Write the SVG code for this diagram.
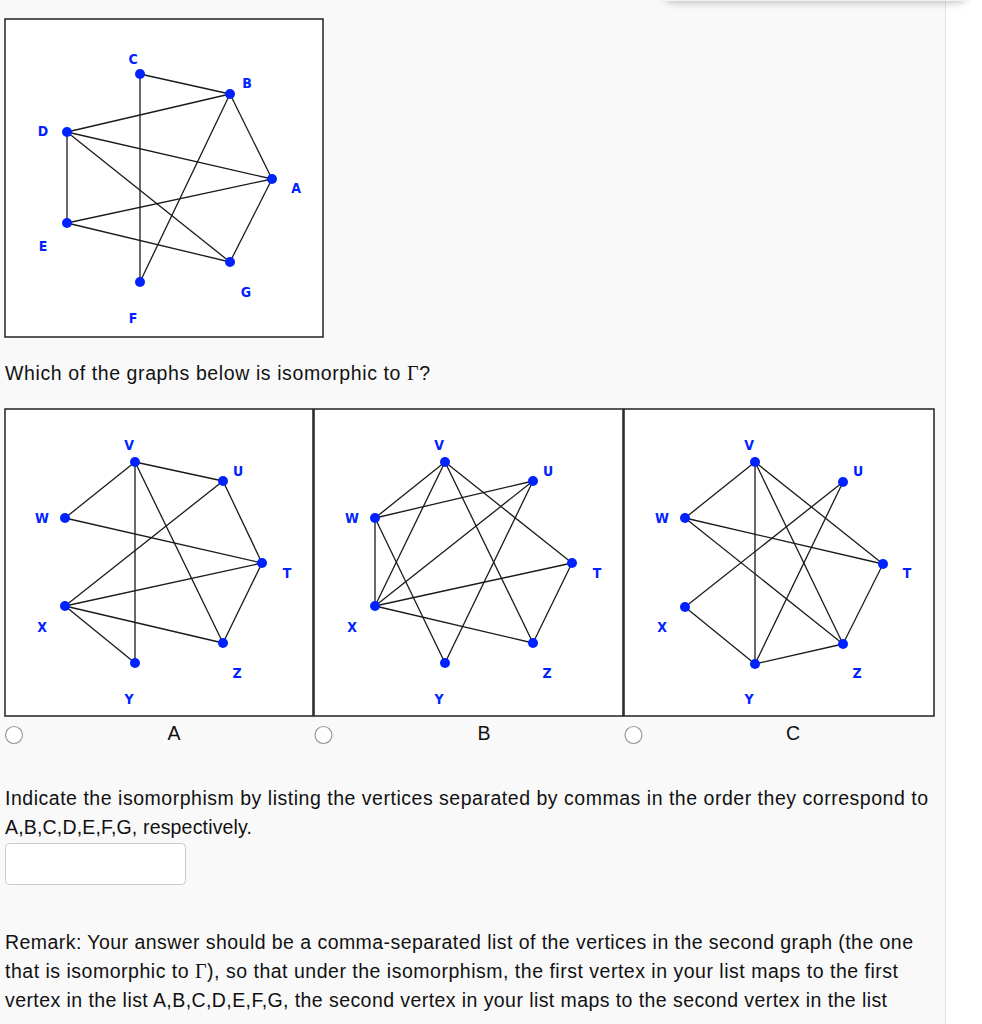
<svg xmlns="http://www.w3.org/2000/svg" width="982" height="1024" viewBox="0 0 982 1024">
<defs>
<style>
.pg{font-family:"Liberation Sans",Arial,sans-serif;font-size:19.5px;fill:#111}
.lb{font-family:"DejaVu Sans Condensed","DejaVu Sans",sans-serif;font-weight:bold;font-size:14px;fill:#0022ff;text-anchor:middle}
.e line{stroke:#1a1a1a;stroke-width:1.3}
.n{fill:#0022ff}
.frame{fill:#fff;stroke:#222;stroke-width:1.5}
.radio{fill:#fff;stroke:#999;stroke-width:1.2}
.gm{font-family:"Liberation Serif",serif;font-size:20px}
</style>
<filter id="sh" x="-10%" y="-200%" width="120%" height="500%"><feGaussianBlur stdDeviation="4"/></filter>
</defs>
<rect x="0" y="0" width="982" height="1024" fill="#f9f9f9"/>
<rect x="945" y="0" width="37" height="1024" fill="#fff"/>
<line x1="945.5" y1="0" x2="945.5" y2="1024" stroke="#e3e3e3"/>
<rect x="665" y="-20" width="300" height="22" rx="6" fill="#888" opacity="0.6" filter="url(#sh)"/>
<rect x="660" y="-20" width="310" height="21" fill="#f2f2f2"/>

<!-- Top graph Gamma -->
<g id="graph-gamma">
<rect class="frame" x="5" y="19" width="318" height="318"/>
<g class="e">
<line x1="140" y1="74" x2="230" y2="94"/>
<line x1="140" y1="74" x2="140" y2="282"/>
<line x1="230" y1="94" x2="67" y2="132"/>
<line x1="230" y1="94" x2="272" y2="179"/>
<line x1="230" y1="94" x2="140" y2="282"/>
<line x1="67" y1="132" x2="67" y2="223"/>
<line x1="67" y1="132" x2="272" y2="179"/>
<line x1="67" y1="132" x2="230" y2="262"/>
<line x1="272" y1="179" x2="67" y2="223"/>
<line x1="272" y1="179" x2="230" y2="262"/>
<line x1="67" y1="223" x2="230" y2="262"/>
</g>
<g id="gA"><circle class="n" cx="272" cy="179" r="5"/><text class="lb" x="296" y="193">A</text></g>
<g id="gB"><circle class="n" cx="230" cy="94" r="5"/><text class="lb" x="247" y="88">B</text></g>
<g id="gC"><circle class="n" cx="140" cy="74" r="5"/><text class="lb" x="133" y="64">C</text></g>
<g id="gD"><circle class="n" cx="67" cy="132" r="5"/><text class="lb" x="43" y="136">D</text></g>
<g id="gE"><circle class="n" cx="67" cy="223" r="5"/><text class="lb" x="43" y="251">E</text></g>
<g id="gF"><circle class="n" cx="140" cy="282" r="5"/><text class="lb" x="133" y="323">F</text></g>
<g id="gG"><circle class="n" cx="230" cy="262" r="5"/><text class="lb" x="246" y="297">G</text></g>
</g>

<text class="pg" x="5" y="380" textLength="425" lengthAdjust="spacing">Which of the graphs below is isomorphic to <tspan class="gm">Γ</tspan>?</text>

<!-- Graph A -->
<g id="graph-a">
<rect class="frame" x="5" y="409" width="308" height="307"/>
<g class="e">
<line x1="135" y1="462" x2="223" y2="481"/>
<line x1="135" y1="462" x2="65" y2="518"/>
<line x1="135" y1="462" x2="135" y2="663"/>
<line x1="135" y1="462" x2="223" y2="643"/>
<line x1="223" y1="481" x2="262" y2="563"/>
<line x1="223" y1="481" x2="65" y2="606"/>
<line x1="65" y1="518" x2="262" y2="563"/>
<line x1="262" y1="563" x2="65" y2="606"/>
<line x1="262" y1="563" x2="223" y2="643"/>
<line x1="65" y1="606" x2="223" y2="643"/>
<line x1="65" y1="606" x2="135" y2="663"/>
</g>
<g id="aV"><circle class="n" cx="135" cy="462" r="5"/><text class="lb" x="129" y="450">V</text></g>
<g id="aU"><circle class="n" cx="223" cy="481" r="5"/><text class="lb" x="238" y="476">U</text></g>
<g id="aW"><circle class="n" cx="65" cy="518" r="5"/><text class="lb" x="42" y="523">W</text></g>
<g id="aT"><circle class="n" cx="262" cy="563" r="5"/><text class="lb" x="287" y="578">T</text></g>
<g id="aX"><circle class="n" cx="65" cy="606" r="5"/><text class="lb" x="42" y="632">X</text></g>
<g id="aZ"><circle class="n" cx="223" cy="643" r="5"/><text class="lb" x="237" y="678">Z</text></g>
<g id="aY"><circle class="n" cx="135" cy="663" r="5"/><text class="lb" x="129" y="704">Y</text></g>
</g>

<!-- Graph B -->
<g id="graph-b">
<rect class="frame" x="314" y="409" width="309" height="307"/>
<g class="e">
<line x1="445" y1="462" x2="375" y2="518"/>
<line x1="445" y1="462" x2="375" y2="606"/>
<line x1="445" y1="462" x2="533" y2="643"/>
<line x1="445" y1="462" x2="572" y2="563"/>
<line x1="533" y1="481" x2="375" y2="518"/>
<line x1="533" y1="481" x2="375" y2="606"/>
<line x1="533" y1="481" x2="445" y2="663"/>
<line x1="375" y1="518" x2="375" y2="606"/>
<line x1="375" y1="518" x2="445" y2="663"/>
<line x1="375" y1="606" x2="572" y2="563"/>
<line x1="375" y1="606" x2="533" y2="643"/>
<line x1="572" y1="563" x2="533" y2="643"/>
</g>
<g id="bV"><circle class="n" cx="445" cy="462" r="5"/><text class="lb" x="439" y="450">V</text></g>
<g id="bU"><circle class="n" cx="533" cy="481" r="5"/><text class="lb" x="548" y="476">U</text></g>
<g id="bW"><circle class="n" cx="375" cy="518" r="5"/><text class="lb" x="352" y="523">W</text></g>
<g id="bT"><circle class="n" cx="572" cy="563" r="5"/><text class="lb" x="597" y="578">T</text></g>
<g id="bX"><circle class="n" cx="375" cy="606" r="5"/><text class="lb" x="352" y="632">X</text></g>
<g id="bZ"><circle class="n" cx="533" cy="643" r="5"/><text class="lb" x="547" y="678">Z</text></g>
<g id="bY"><circle class="n" cx="445" cy="663" r="5"/><text class="lb" x="439" y="704">Y</text></g>
</g>

<!-- Graph C -->
<g id="graph-c">
<rect class="frame" x="624" y="409" width="310" height="307"/>
<g class="e">
<line x1="755" y1="462" x2="685" y2="518"/>
<line x1="755" y1="462" x2="755" y2="664"/>
<line x1="755" y1="462" x2="843" y2="644"/>
<line x1="755" y1="462" x2="883" y2="564"/>
<line x1="843" y1="482" x2="685" y2="607"/>
<line x1="843" y1="482" x2="755" y2="664"/>
<line x1="685" y1="518" x2="883" y2="564"/>
<line x1="685" y1="518" x2="843" y2="644"/>
<line x1="883" y1="564" x2="843" y2="644"/>
<line x1="685" y1="607" x2="755" y2="664"/>
<line x1="755" y1="664" x2="843" y2="644"/>
</g>
<g id="cV"><circle class="n" cx="755" cy="462" r="5"/><text class="lb" x="749" y="450">V</text></g>
<g id="cU"><circle class="n" cx="843" cy="482" r="5"/><text class="lb" x="858" y="476">U</text></g>
<g id="cW"><circle class="n" cx="685" cy="518" r="5"/><text class="lb" x="662" y="523">W</text></g>
<g id="cT"><circle class="n" cx="883" cy="564" r="5"/><text class="lb" x="907" y="578">T</text></g>
<g id="cX"><circle class="n" cx="685" cy="607" r="5"/><text class="lb" x="662" y="632">X</text></g>
<g id="cZ"><circle class="n" cx="843" cy="644" r="5"/><text class="lb" x="857" y="678">Z</text></g>
<g id="cY"><circle class="n" cx="755" cy="664" r="5"/><text class="lb" x="749" y="704">Y</text></g>
</g>

<!-- Radio options -->
<g id="options">
<circle class="radio" cx="14" cy="735" r="8.5"/>
<text class="pg" x="174" y="740" text-anchor="middle" font-size="17">A</text>
<circle class="radio" cx="323.5" cy="735" r="8.5"/>
<text class="pg" x="484" y="740" text-anchor="middle" font-size="17">B</text>
<circle class="radio" cx="633.5" cy="735" r="8.5"/>
<text class="pg" x="793" y="740" text-anchor="middle" font-size="17">C</text>
</g>

<text class="pg" x="5" y="805" textLength="923" lengthAdjust="spacing">Indicate the isomorphism by listing the vertices separated by commas in the order they correspond to</text>
<text class="pg" x="5" y="834" textLength="247" lengthAdjust="spacing">A,B,C,D,E,F,G, respectively.</text>
<rect id="answer" x="5.5" y="843.5" width="180" height="41" rx="4" fill="#fff" stroke="#c8c8c8"/>

<text class="pg" x="5" y="949" textLength="908" lengthAdjust="spacing">Remark: Your answer should be a comma-separated list of the vertices in the second graph (the one</text>
<text class="pg" x="5" y="978" textLength="893" lengthAdjust="spacing">that is isomorphic to <tspan class="gm">Γ</tspan>), so that under the isomorphism, the first vertex in your list maps to the first</text>
<text class="pg" x="5" y="1007" textLength="882" lengthAdjust="spacing">vertex in the list A,B,C,D,E,F,G, the second vertex in your list maps to the second vertex in the list</text>
</svg>
